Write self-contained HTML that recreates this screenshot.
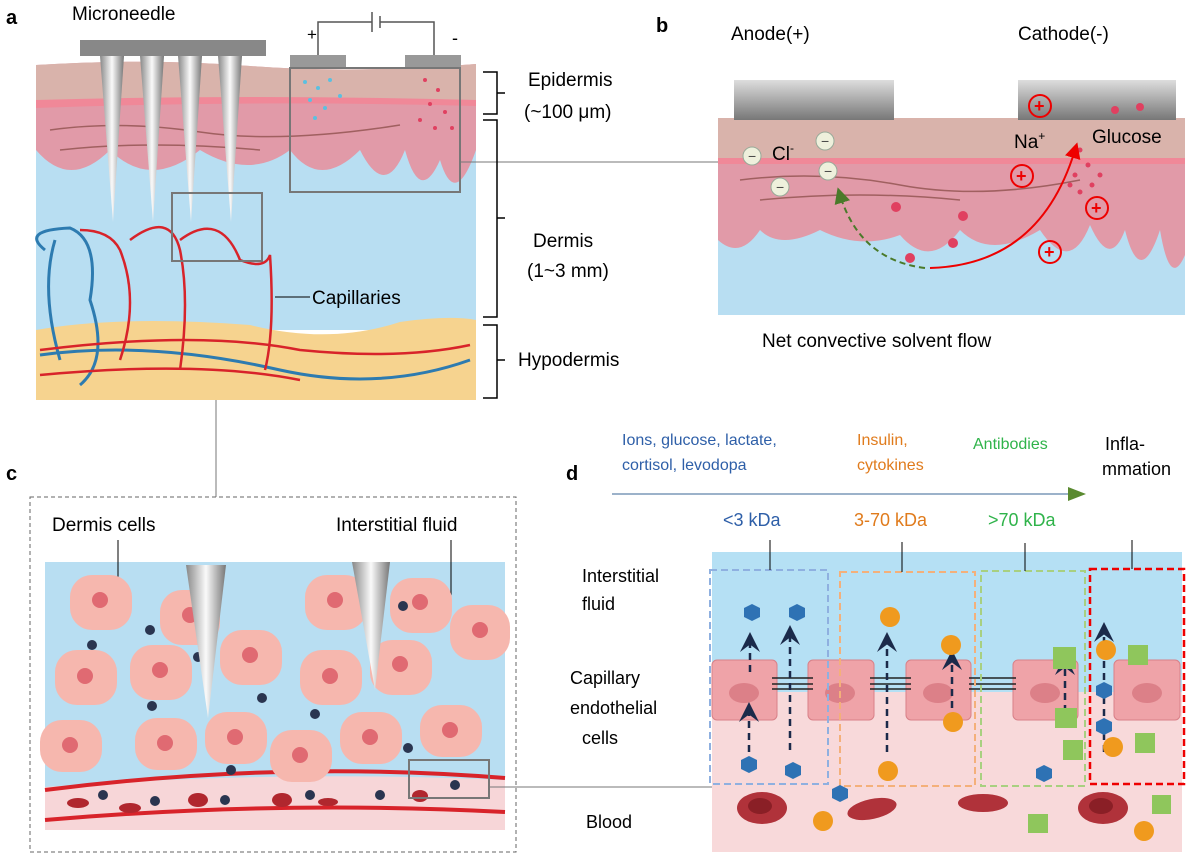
<!DOCTYPE html>
<html><head><meta charset="utf-8"><style>
body{margin:0;background:#fff}
svg{display:block}
text{font-family:"Liberation Sans",sans-serif}
</style></head><body>
<svg width="1200" height="854" viewBox="0 0 1200 854" xmlns="http://www.w3.org/2000/svg">
<defs>
<linearGradient id="ndl" x1="0" x2="1"><stop offset="0" stop-color="#888"/><stop offset=".5" stop-color="#fafafa"/><stop offset="1" stop-color="#777"/></linearGradient>
<linearGradient id="el" x1="0" y1="0" x2="0" y2="1"><stop offset="0" stop-color="#ddd"/><stop offset="1" stop-color="#777"/></linearGradient>
<marker id="ah" markerWidth="8" markerHeight="8" refX="4" refY="4" orient="auto"><path d="M0,0 L8,4 L0,8 L3,4z" fill="#1b2a4a"/></marker>
<marker id="ar" markerWidth="8" markerHeight="8" refX="4" refY="4" orient="auto"><path d="M0,0 L8,4 L0,8z" fill="#e00"/></marker>
<marker id="ag" markerWidth="8" markerHeight="8" refX="4" refY="4" orient="auto"><path d="M0,0 L8,4 L0,8z" fill="#4a7a2a"/></marker>
</defs>

<!-- Panel a -->
<text x="6" y="24" font-size="20" font-weight="bold">a</text>
<text x="72" y="20" font-size="19">Microneedle</text>
<rect x="36" y="150" width="440" height="180" fill="#b8def2"/>
<path d="M36,65 Q150,58 250,66 T476,64 L476,150 Q455,210 440,160 Q420,205 405,150 Q385,200 360,150 Q320,190 290,150 Q250,180 200,150 Q150,190 110,150 Q70,190 36,150Z" fill="#e19aa8"/>
<path d="M36,65 Q150,58 250,66 T476,64 L476,100 Q250,96 36,102Z" fill="#d9b3ab"/>
<path d="M36,100 Q250,94 476,100 L476,106 Q250,100 36,108Z" fill="#f08898"/>
<path d="M50,130 Q120,120 200,132 T400,125 M60,150 Q150,140 260,150" stroke="#a06060" fill="none" stroke-width="1.5"/>
<path d="M36,330 Q120,315 250,325 Q330,345 400,322 Q450,315 476,320 L476,400 L36,400Z" fill="#f6d38f"/>
<path d="M55,240 Q40,290 60,360 M45,250 Q20,230 70,228 Q100,240 90,300 Q110,360 80,385 M40,355 Q150,340 280,370 Q380,392 470,360" stroke="#2d7bb0" fill="none" stroke-width="3"/>
<path d="M80,230 Q110,230 120,250 Q140,300 120,360 M130,240 Q170,210 180,250 Q190,300 180,370 M180,240 Q220,210 240,260 Q265,270 270,255 Q275,330 265,370 M40,350 Q200,330 300,350 Q400,360 470,345 M40,375 Q200,360 300,380" stroke="#d8232a" fill="none" stroke-width="2.5"/>
<rect x="80" y="40" width="186" height="16" fill="#888"/>
<polygon points="100,56 124,56 113,222" fill="url(#ndl)"/>
<polygon points="140,56 164,56 153,222" fill="url(#ndl)"/>
<polygon points="178,56 202,56 191,222" fill="url(#ndl)"/>
<polygon points="218,56 242,56 231,222" fill="url(#ndl)"/>
<rect x="290" y="55" width="56" height="12" fill="#999"/>
<rect x="405" y="55" width="56" height="12" fill="#999"/>
<path d="M318,55 V22 H372 M380,22 H434 V55 M372,12 V32 M380,16 V28" stroke="#555" fill="none" stroke-width="1.5"/>
<text x="307" y="40" font-size="17">+</text><text x="452" y="44" font-size="18">-</text>
<g fill="#5bc0e0"><circle cx="305" cy="82" r="2"/><circle cx="318" cy="88" r="2"/><circle cx="330" cy="80" r="2"/><circle cx="310" cy="100" r="2"/><circle cx="325" cy="108" r="2"/><circle cx="340" cy="96" r="2"/><circle cx="315" cy="118" r="2"/></g>
<g fill="#e04060"><circle cx="425" cy="80" r="2"/><circle cx="438" cy="90" r="2"/><circle cx="430" cy="104" r="2"/><circle cx="445" cy="112" r="2"/><circle cx="420" cy="120" r="2"/><circle cx="452" cy="128" r="2"/><circle cx="435" cy="128" r="2"/></g>
<rect x="290" y="68" width="170" height="124" fill="none" stroke="#777" stroke-width="2"/>
<rect x="172" y="193" width="90" height="68" fill="none" stroke="#777" stroke-width="2"/>
<line x1="460" y1="162" x2="718" y2="162" stroke="#777"/>
<line x1="216" y1="400" x2="216" y2="497" stroke="#777"/>
<line x1="275" y1="297" x2="310" y2="297" stroke="#000"/>
<text x="312" y="304" font-size="19">Capillaries</text>
<g stroke="#000" stroke-width="1.5" fill="none"><path d="M483,72 H497 V114 H483 M497,93 H505"/><path d="M483,120 H497 V317 H483 M497,218 H505"/><path d="M483,325 H497 V398 H483 M497,360 H505"/></g>
<text x="528" y="86" font-size="19">Epidermis</text><text x="524" y="118" font-size="19">(~100 μm)</text>
<text x="533" y="247" font-size="19">Dermis</text><text x="527" y="277" font-size="19">(1~3 mm)</text>
<text x="518" y="366" font-size="19">Hypodermis</text>

<!-- Panel b -->
<text x="656" y="32" font-size="20" font-weight="bold">b</text>
<text x="731" y="40" font-size="19">Anode(+)</text><text x="1018" y="40" font-size="19">Cathode(-)</text>
<rect x="718" y="160" width="467" height="155" fill="#b8def2"/>
<path d="M718,118 L1185,118 L1185,255 Q1170,290 1160,230 Q1140,290 1125,230 Q1110,270 1090,225 Q1070,275 1040,230 Q990,260 960,230 Q930,270 900,235 Q860,250 820,230 Q780,250 760,230 Q740,260 718,240Z" fill="#e19aa8"/>
<rect x="718" y="118" width="467" height="42" fill="#d9b3ab"/>
<rect x="718" y="158" width="467" height="6" fill="#f08898"/>
<path d="M740,180 Q820,170 900,185 T1080,180 M760,200 Q860,190 960,200" stroke="#a06060" fill="none" stroke-width="1.5"/>
<rect x="734" y="80" width="160" height="40" fill="url(#el)"/>
<rect x="1018" y="80" width="158" height="40" fill="url(#el)"/>
<g fill="#eef0dc" stroke="#9a9" stroke-width="1"><circle cx="752" cy="156" r="9"/><circle cx="825" cy="141" r="9"/><circle cx="828" cy="171" r="9"/><circle cx="780" cy="187" r="9"/></g>
<g font-size="14" fill="#444"><text x="748" y="161">−</text><text x="821" y="146">−</text><text x="824" y="176">−</text><text x="776" y="192">−</text></g>
<text x="772" y="160" font-size="19">Cl<tspan font-size="12" dy="-8">-</tspan></text>
<text x="1014" y="148" font-size="19">Na<tspan font-size="12" dy="-8">+</tspan></text>
<text x="1092" y="143" font-size="19">Glucose</text>
<g fill="none" stroke="#e00" stroke-width="2"><circle cx="1040" cy="106" r="11"/><circle cx="1022" cy="176" r="11"/><circle cx="1097" cy="208" r="11"/><circle cx="1050" cy="252" r="11"/></g>
<g font-size="18" fill="#e00" font-weight="bold"><text x="1034" y="112">+</text><text x="1016" y="182">+</text><text x="1091" y="214">+</text><text x="1044" y="258">+</text></g>
<g fill="#e04060"><circle cx="1115" cy="110" r="4"/><circle cx="1140" cy="107" r="4"/><circle cx="896" cy="207" r="5"/><circle cx="963" cy="216" r="5"/><circle cx="953" cy="243" r="5"/><circle cx="910" cy="258" r="5"/><circle cx="1080" cy="150" r="2.5"/><circle cx="1088" cy="165" r="2.5"/><circle cx="1075" cy="175" r="2.5"/><circle cx="1092" cy="185" r="2.5"/><circle cx="1080" cy="192" r="2.5"/><circle cx="1070" cy="185" r="2.5"/><circle cx="1100" cy="175" r="2.5"/></g>
<path d="M930,268 Q1040,265 1075,150" stroke="#e00" stroke-width="2" fill="none" marker-end="url(#ar)"/>
<path d="M925,268 Q860,260 840,195" stroke="#4a7a2a" stroke-width="2" stroke-dasharray="6,4" fill="none" marker-end="url(#ag)"/>
<text x="762" y="347" font-size="19">Net convective solvent flow</text>

<!-- Panel c -->
<text x="6" y="480" font-size="20" font-weight="bold">c</text>
<rect x="30" y="497" width="486" height="355" fill="none" stroke="#666" stroke-dasharray="4,3"/>
<rect x="45" y="562" width="460" height="225" fill="#b8def2"/>
<path d="M45,787 Q280,770 505,780 L505,830 L45,830Z" fill="#f7d6d8"/>
<path d="M45,790 Q280,760 505,778 M45,820 Q280,800 505,812" stroke="#d8232a" stroke-width="4" fill="none"/>
<text x="52" y="531" font-size="19">Dermis cells</text><text x="336" y="531" font-size="19">Interstitial fluid</text>
<line x1="118" y1="540" x2="118" y2="590" stroke="#000"/><line x1="451" y1="540" x2="451" y2="600" stroke="#000"/>
<g fill="#f6b7ae"><rect x="70" y="575" width="62" height="55" rx="22"/><rect x="160" y="590" width="60" height="55" rx="22"/><rect x="305" y="575" width="62" height="55" rx="22"/><rect x="390" y="578" width="62" height="55" rx="22"/><rect x="450" y="605" width="60" height="55" rx="22"/><rect x="55" y="650" width="62" height="55" rx="22"/><rect x="130" y="645" width="62" height="55" rx="22"/><rect x="220" y="630" width="62" height="55" rx="22"/><rect x="300" y="650" width="62" height="55" rx="22"/><rect x="370" y="640" width="62" height="55" rx="22"/><rect x="40" y="720" width="62" height="52" rx="22"/><rect x="135" y="718" width="62" height="52" rx="22"/><rect x="205" y="712" width="62" height="52" rx="22"/><rect x="270" y="730" width="62" height="52" rx="22"/><rect x="340" y="712" width="62" height="52" rx="22"/><rect x="420" y="705" width="62" height="52" rx="22"/></g>
<g fill="#e06a72"><circle cx="100" cy="600" r="8"/><circle cx="190" cy="615" r="8"/><circle cx="335" cy="600" r="8"/><circle cx="420" cy="602" r="8"/><circle cx="480" cy="630" r="8"/><circle cx="85" cy="676" r="8"/><circle cx="160" cy="670" r="8"/><circle cx="250" cy="655" r="8"/><circle cx="330" cy="676" r="8"/><circle cx="400" cy="664" r="8"/><circle cx="70" cy="745" r="8"/><circle cx="165" cy="743" r="8"/><circle cx="235" cy="737" r="8"/><circle cx="300" cy="755" r="8"/><circle cx="370" cy="737" r="8"/><circle cx="450" cy="730" r="8"/></g>
<g fill="#2a3550"><circle cx="92" cy="645" r="5"/><circle cx="150" cy="630" r="5"/><circle cx="198" cy="657" r="5"/><circle cx="403" cy="606" r="5"/><circle cx="262" cy="698" r="5"/><circle cx="152" cy="706" r="5"/><circle cx="315" cy="714" r="5"/><circle cx="408" cy="748" r="5"/><circle cx="231" cy="770" r="5"/><circle cx="155" cy="801" r="5"/><circle cx="225" cy="800" r="5"/><circle cx="310" cy="795" r="5"/><circle cx="380" cy="795" r="5"/><circle cx="455" cy="785" r="5"/><circle cx="103" cy="795" r="5"/></g>
<g fill="#b0272e"><ellipse cx="78" cy="803" rx="11" ry="5"/><ellipse cx="130" cy="808" rx="11" ry="5"/><ellipse cx="198" cy="800" rx="10" ry="7"/><ellipse cx="282" cy="800" rx="10" ry="7"/><ellipse cx="328" cy="802" rx="10" ry="4"/><ellipse cx="420" cy="796" rx="8" ry="6"/></g>
<polygon points="186,565 226,565 208,718" fill="url(#ndl)"/>
<polygon points="352,562 390,562 375,690" fill="url(#ndl)"/>
<rect x="409" y="760" width="80" height="38" fill="none" stroke="#777" stroke-width="2"/>
<line x1="489" y1="787" x2="712" y2="787" stroke="#777"/>

<!-- Panel d -->
<text x="566" y="480" font-size="20" font-weight="bold">d</text>
<text x="622" y="445" font-size="16" fill="#2e5fa8">Ions, glucose, lactate,</text>
<text x="622" y="470" font-size="16" fill="#2e5fa8">cortisol, levodopa</text>
<text x="857" y="445" font-size="16" fill="#e07b1c">Insulin,</text><text x="857" y="470" font-size="16" fill="#e07b1c">cytokines</text>
<text x="973" y="449" font-size="16" fill="#2fb34a">Antibodies</text>
<text x="1105" y="450" font-size="18">Infla-</text><text x="1102" y="475" font-size="18">mmation</text>
<line x1="612" y1="494" x2="1070" y2="494" stroke="#7b98b8" stroke-width="1.5"/>
<polygon points="1068,487 1086,494 1068,501" fill="#5a8a30"/>
<text x="723" y="526" font-size="18" fill="#2e5fa8">&lt;3 kDa</text>
<text x="854" y="526" font-size="18" fill="#e07b1c">3-70 kDa</text>
<text x="988" y="526" font-size="18" fill="#2fb34a">&gt;70 kDa</text>
<rect x="712" y="552" width="470" height="140" fill="#b5e0f4"/>
<rect x="712" y="692" width="470" height="160" fill="#f8d9da"/>
<text x="582" y="582" font-size="18">Interstitial</text><text x="582" y="610" font-size="18">fluid</text>
<text x="570" y="684" font-size="18">Capillary</text><text x="570" y="714" font-size="18">endothelial</text><text x="582" y="744" font-size="18">cells</text>
<text x="586" y="828" font-size="18">Blood</text>
<g fill="#efa3a8" stroke="#d88088"><rect x="712" y="660" width="65" height="60" rx="5"/><rect x="808" y="660" width="66" height="60" rx="5"/><rect x="906" y="660" width="65" height="60" rx="5"/><rect x="1013" y="660" width="65" height="60" rx="5"/><rect x="1114" y="660" width="66" height="60" rx="5"/></g>
<g fill="#dc8088"><ellipse cx="744" cy="693" rx="15" ry="10"/><ellipse cx="840" cy="693" rx="15" ry="10"/><ellipse cx="938" cy="693" rx="15" ry="10"/><ellipse cx="1045" cy="693" rx="15" ry="10"/><ellipse cx="1147" cy="693" rx="15" ry="10"/></g>
<g stroke="#222" stroke-width="1.5"><path d="M772,678 H813 M772,684 H813 M772,689 H813"/><path d="M870,678 H911 M870,684 H911 M870,689 H911"/><path d="M969,678 H1016 M969,684 H1016 M969,689 H1016"/></g>
<g fill="none" stroke-width="2" stroke-dasharray="7,4"><rect x="710" y="570" width="118" height="214" stroke="#8fb0e0"/><rect x="840" y="572" width="135" height="214" stroke="#f4b07a"/><rect x="981" y="571" width="104" height="215" stroke="#a8d080"/><rect x="1090" y="569" width="94" height="215" stroke="#e00" stroke-width="2.5"/></g>
<g stroke="#000"><line x1="770" y1="540" x2="770" y2="570"/><line x1="902" y1="542" x2="902" y2="572"/><line x1="1025" y1="543" x2="1025" y2="571"/><line x1="1132" y1="540" x2="1132" y2="569"/></g>
<g stroke="#1b2a4a" stroke-width="2.5" stroke-dasharray="7,5" fill="none" marker-end="url(#ah)"><path d="M750,672 V642"/><path d="M790,750 V635"/><path d="M749,752 V712"/><path d="M887,752 V642"/><path d="M952,708 V660"/><path d="M1065,712 V665"/><path d="M1104,752 V632"/></g>
<g fill="#2e72b4"><polygon points="752,604 760,608 760,617 752,621 744,617 744,608"/><polygon points="797,604 805,608 805,617 797,621 789,617 789,608"/><polygon points="749,756 757,760 757,769 749,773 741,769 741,760"/><polygon points="793,762 801,766 801,775 793,779 785,775 785,766"/><polygon points="840,785 848,789 848,798 840,802 832,798 832,789"/><polygon points="1044,765 1052,769 1052,778 1044,782 1036,778 1036,769"/><polygon points="1104,682 1112,686 1112,695 1104,699 1096,695 1096,686"/><polygon points="1104,718 1112,722 1112,731 1104,735 1096,731 1096,722"/></g>
<g fill="#f09a1e"><circle cx="890" cy="617" r="10"/><circle cx="951" cy="645" r="10"/><circle cx="953" cy="722" r="10"/><circle cx="888" cy="771" r="10"/><circle cx="823" cy="821" r="10"/><circle cx="1106" cy="650" r="10"/><circle cx="1113" cy="747" r="10"/><circle cx="1144" cy="831" r="10"/></g>
<g fill="#8fc65c"><rect x="1053" y="647" width="23" height="22"/><rect x="1055" y="708" width="22" height="20"/><rect x="1063" y="740" width="20" height="20"/><rect x="1128" y="645" width="20" height="20"/><rect x="1135" y="733" width="20" height="20"/><rect x="1152" y="795" width="19" height="19"/><rect x="1028" y="814" width="20" height="19"/></g>
<g fill="#b0323a"><ellipse cx="762" cy="808" rx="25" ry="16"/><ellipse cx="872" cy="809" rx="25" ry="10" transform="rotate(-12 872 809)"/><ellipse cx="983" cy="803" rx="25" ry="9"/><ellipse cx="1103" cy="808" rx="25" ry="16"/></g>
<g fill="#8a1f26"><ellipse cx="760" cy="806" rx="12" ry="8"/><ellipse cx="1101" cy="806" rx="12" ry="8"/></g>
</svg>
</body></html>
